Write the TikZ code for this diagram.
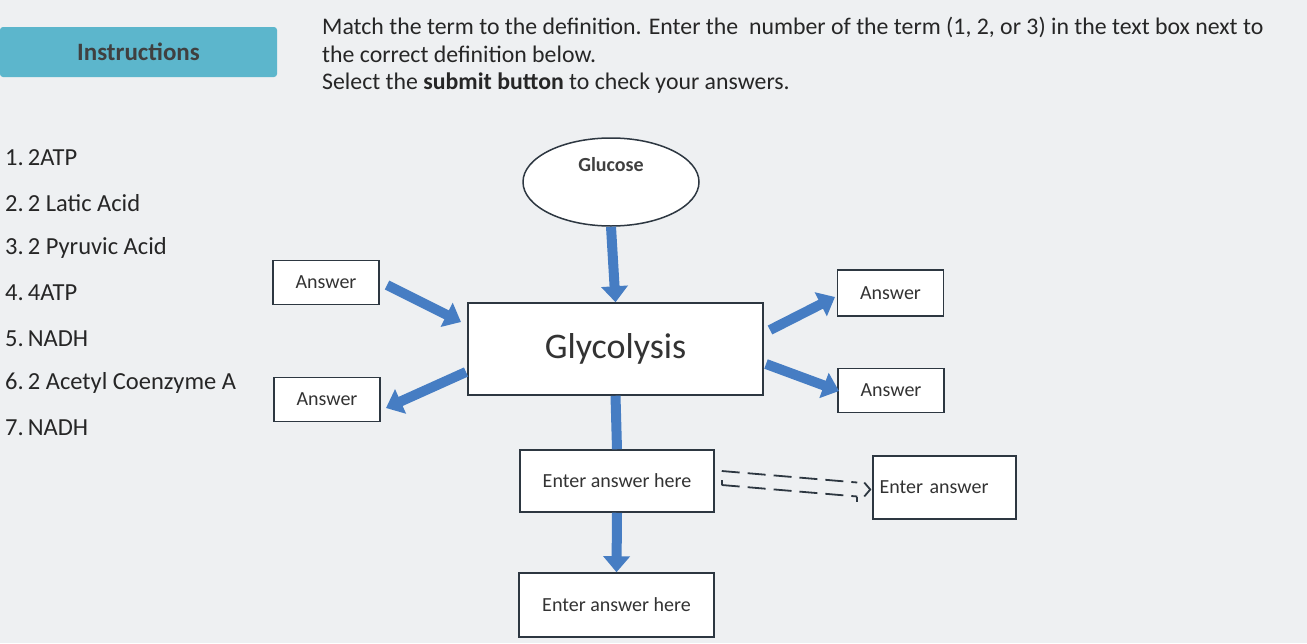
\documentclass[tikz,border=0pt]{standalone}
\usepackage{fontspec}
\setmainfont{Carlito}
\usetikzlibrary{arrows.meta,shapes.geometric}
\definecolor{bgcol}{RGB}{238,240,242}
\definecolor{boxline}{RGB}{45,55,65}
\definecolor{flowblue}{RGB}{70,125,195}
\definecolor{instcol}{RGB}{92,182,204}
\tikzset{
  ansbox/.style={draw=boxline,line width=1.5pt,fill=white,minimum width=106pt,minimum height=44pt,font=\fontsize{20}{24}\selectfont,text=black!80},
  bigarrow/.style={draw=flowblue,line width=10pt,-{Triangle[width=26pt,length=16pt]}},
  dashlink/.style={draw=boxline,line width=1.8pt,dash pattern=on 18pt off 8pt},
  listitem/.style={anchor=west,font=\fontsize{24.5}{28}\selectfont,text=black!85,inner sep=0pt},
}
\begin{document}
\begin{tikzpicture}[x=1pt,y=-1pt]
\fill[bgcol] (0,0) rectangle (1307,643);
\useasboundingbox (0,0) rectangle (1307,643);

% Instructions
\node[fill=instcol,rounded corners=3pt,minimum width=277pt,minimum height=50pt,font=\fontsize{25}{28}\selectfont\bfseries,text=black!75] (inst) at (138.5,52) {Instructions};
\node[anchor=north west,inner sep=0pt,font=\fontsize{23.8}{27.5}\selectfont,text=black!85,align=left] (task) at (322,17)
  {Match the term to the definition. Enter the\ \ number of the term (1, 2, or 3) in the text box next to\\the correct definition below.\\Select the \textbf{submit button} to check your answers.};

% terms
\node[listitem] (t1) at (5,158) {1.\,2ATP};
\node[listitem] (t2) at (5,203) {2.\,2 Latic Acid};
\node[listitem] (t3) at (5,248) {3.\,2 Pyruvic Acid};
\node[listitem] (t4) at (5,293) {4.\,4ATP};
\node[listitem] (t5) at (5,339) {5.\,NADH};
\node[listitem] (t6) at (5,383) {6.\,2 Acetyl Coenzyme A};
\node[listitem] (t7) at (5,428) {7.\,NADH};

% diagram
\node[ellipse,draw=boxline,line width=1.5pt,fill=white,minimum width=176pt,minimum height=88pt] (glucose) at (611,182) {};
\node[font=\fontsize{20}{24}\selectfont\bfseries,text=black!75] (gluclab) at (611,165) {Glucose};
\node[draw=boxline,line width=1.5pt,fill=white,minimum width=295pt,minimum height=92pt,font=\fontsize{36}{42}\selectfont,text=black!80] (glyco) at (615.5,349) {Glycolysis};
\node[ansbox] (ansTL) at (326,282.5) {Answer};
\node[ansbox] (ansBL) at (327,399.5) {Answer};
\node[ansbox,minimum height=46pt] (ansTR) at (890.5,293) {Answer};
\node[ansbox] (ansBR) at (891,390.5) {Answer};
\node[ansbox,minimum width=194pt,minimum height=62pt] (enter1) at (617,481) {Enter answer here};
\node[ansbox,minimum width=195pt,minimum height=64pt] (enter2) at (616.5,605) {Enter answer here};
\node[ansbox,minimum width=143pt,minimum height=63pt,text width=130pt,align=left] (enter3) at (944.5,487.5) {Enter answer};

\coordinate (tlA) at (387,285); \coordinate (tlB) at (461,322);
\coordinate (blA) at (466,372); \coordinate (blB) at (386,408);
\coordinate (trA) at (770,330); \coordinate (trB) at (835,297);
\coordinate (brA) at (766,364); \coordinate (brB) at (839,391);
\draw[bigarrow] (glucose.south) -- (glyco.north);
\draw[bigarrow] (tlA) -- (tlB);
\draw[bigarrow] (blA) -- (blB);
\draw[bigarrow] (trA) -- (trB);
\draw[bigarrow] (brA) -- (brB);
\draw[draw=flowblue,line width=10pt] (glyco.south) -- (enter1.north);
\draw[bigarrow] (enter1.south) -- (enter2.north);

% dashed link
\coordinate (dA) at ([xshift=7pt,yshift=-4pt]enter1.east);
\coordinate (dB) at ([xshift=7pt,yshift=10pt]enter1.east);
\coordinate (dC) at ([xshift=-15pt,yshift=-9pt]enter3.west);
\coordinate (dD) at ([xshift=-15pt,yshift=5pt]enter3.west);
\draw[dashlink] (dA) -- (dC);
\draw[dashlink] (dB) -- (dD);
\draw[boxline,line width=1.8pt] (dA) -- ++(0,5pt);
\draw[boxline,line width=1.8pt] ([yshift=-5pt]dC) -- (dC);
\draw[boxline,line width=1.8pt] ([xshift=-8pt,yshift=-9pt]enter3.west) -- ([xshift=-2pt,yshift=-2pt]enter3.west) -- ([xshift=-8pt,yshift=5pt]enter3.west);
\end{tikzpicture}
\end{document}
